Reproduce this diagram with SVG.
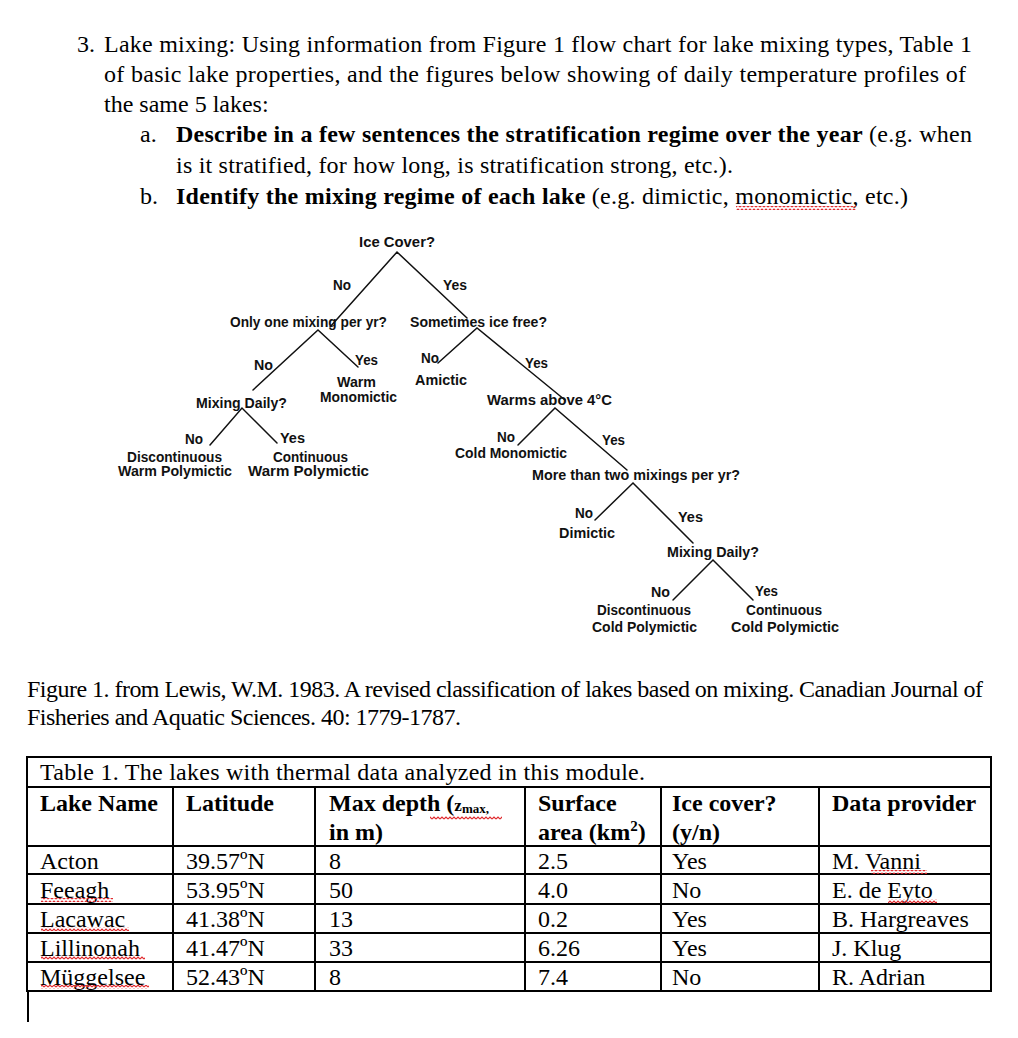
<svg xmlns="http://www.w3.org/2000/svg" width="1018" height="1038" viewBox="0 0 1018 1038">
<style>
.doc{font-family:"Liberation Serif","Times New Roman",serif;font-size:24px;fill:#000}
.b{font-weight:bold}
.fc{font-family:"Liberation Sans",Arial,sans-serif;font-weight:bold;font-size:14.5px;fill:#111}
.ln{stroke:#111;stroke-width:1.5;fill:none;stroke-linecap:round}
.tl{stroke:#000;stroke-width:2;fill:none}
</style>
<defs>
<pattern id="wave" width="4" height="4" patternUnits="userSpaceOnUse">
<path d="M0 3 L2 1 L4 3" stroke="#e0262a" stroke-width="1.1" fill="none"/>
</pattern>
</defs>
<rect width="1018" height="1038" fill="#fff"/>

<g id="question">
<text class="doc" x="77" y="52">3.</text>
<text class="doc" x="104" y="52" textLength="868" lengthAdjust="spacing">Lake mixing: Using information from Figure 1 flow chart for lake mixing types, Table 1</text>
<text class="doc" x="104" y="82" textLength="862" lengthAdjust="spacing">of basic lake properties, and the figures below showing of daily temperature profiles of</text>
<text class="doc" x="104" y="112">the same 5 lakes:</text>
<text class="doc" x="140" y="142">a.</text>
<text class="doc" x="176" y="142" textLength="796" lengthAdjust="spacing"><tspan class="b">Describe in a few sentences the stratification regime over the year</tspan> (e.g. when</text>
<text class="doc" x="176" y="173" textLength="557" lengthAdjust="spacing">is it stratified, for how long, is stratification strong, etc.).</text>
<text class="doc" x="140" y="204">b.</text>
<text class="doc" x="176" y="204" textLength="732" lengthAdjust="spacing"><tspan class="b">Identify the mixing regime of each lake</tspan> (e.g. dimictic, monomictic, etc.)</text>
<rect x="736" y="206" width="120" height="4" fill="url(#wave)"/>
</g>

<g id="connectors">
<path class="ln" d="M330 327 L397 252 L467 318"/>
<path class="ln" d="M253 390 L318 330 L358 367"/>
<path class="ln" d="M438 363 L477 328 L565 400"/>
<path class="ln" d="M210 445 L242 408 L277 443"/>
<path class="ln" d="M518 445 L555 408 L627 470"/>
<path class="ln" d="M595 520 L633 483 L693 543"/>
<path class="ln" d="M673 600 L713 560 L753 600"/>
</g>

<g id="n-ice-cover"><text class="fc" x="359" y="247" textLength="76" lengthAdjust="spacingAndGlyphs">Ice Cover?</text></g>
<g id="l-ice-no"><text class="fc" x="333" y="290" textLength="18" lengthAdjust="spacingAndGlyphs">No</text></g>
<g id="l-ice-yes"><text class="fc" x="443" y="290" textLength="24" lengthAdjust="spacingAndGlyphs">Yes</text></g>
<g id="n-only-one"><text class="fc" x="230" y="327" textLength="157" lengthAdjust="spacingAndGlyphs">Only one mixing per yr?</text></g>
<g id="n-sometimes"><text class="fc" x="410" y="327" textLength="137" lengthAdjust="spacingAndGlyphs">Sometimes ice free?</text></g>
<g id="l-only-no"><text class="fc" x="254" y="370" textLength="19" lengthAdjust="spacingAndGlyphs">No</text></g>
<g id="n-warm-mono"><text class="fc" x="355" y="365" textLength="23" lengthAdjust="spacingAndGlyphs">Yes</text>
<text class="fc" x="337" y="387" textLength="39" lengthAdjust="spacingAndGlyphs">Warm</text>
<text class="fc" x="320" y="402" textLength="77" lengthAdjust="spacingAndGlyphs">Monomictic</text></g>
<g id="n-amictic"><text class="fc" x="421" y="363" textLength="18" lengthAdjust="spacingAndGlyphs">No</text>
<text class="fc" x="415" y="385" textLength="52" lengthAdjust="spacingAndGlyphs">Amictic</text></g>
<g id="l-some-yes"><text class="fc" x="525" y="368" textLength="23" lengthAdjust="spacingAndGlyphs">Yes</text></g>
<g id="n-warms-above"><text class="fc" x="487" y="405" textLength="125" lengthAdjust="spacingAndGlyphs">Warms above 4°C</text></g>
<g id="n-mixing-daily-1"><text class="fc" x="196" y="408" textLength="91" lengthAdjust="spacingAndGlyphs">Mixing Daily?</text></g>
<g id="n-disc-warm"><text class="fc" x="185" y="444" textLength="18" lengthAdjust="spacingAndGlyphs">No</text>
<text class="fc" x="127" y="462" textLength="95" lengthAdjust="spacingAndGlyphs">Discontinuous</text>
<text class="fc" x="118" y="476" textLength="114" lengthAdjust="spacingAndGlyphs">Warm Polymictic</text></g>
<g id="n-cont-warm"><text class="fc" x="280" y="443" textLength="25" lengthAdjust="spacingAndGlyphs">Yes</text>
<text class="fc" x="273" y="462" textLength="75" lengthAdjust="spacingAndGlyphs">Continuous</text>
<text class="fc" x="248" y="476" textLength="121" lengthAdjust="spacingAndGlyphs">Warm Polymictic</text></g>
<g id="n-cold-mono"><text class="fc" x="497" y="442" textLength="18" lengthAdjust="spacingAndGlyphs">No</text>
<text class="fc" x="455" y="458" textLength="112" lengthAdjust="spacingAndGlyphs">Cold Monomictic</text></g>
<g id="l-warms-yes"><text class="fc" x="602" y="445" textLength="23" lengthAdjust="spacingAndGlyphs">Yes</text></g>
<g id="n-more-than-two"><text class="fc" x="532" y="480" textLength="208" lengthAdjust="spacingAndGlyphs">More than two mixings per yr?</text></g>
<g id="n-dimictic"><text class="fc" x="575" y="518" textLength="18" lengthAdjust="spacingAndGlyphs">No</text>
<text class="fc" x="559" y="538" textLength="56" lengthAdjust="spacingAndGlyphs">Dimictic</text></g>
<g id="l-more-yes"><text class="fc" x="678" y="522" textLength="25" lengthAdjust="spacingAndGlyphs">Yes</text></g>
<g id="n-mixing-daily-2"><text class="fc" x="667" y="557" textLength="92" lengthAdjust="spacingAndGlyphs">Mixing Daily?</text></g>
<g id="n-disc-cold"><text class="fc" x="651" y="597" textLength="19" lengthAdjust="spacingAndGlyphs">No</text>
<text class="fc" x="597" y="615" textLength="94" lengthAdjust="spacingAndGlyphs">Discontinuous</text>
<text class="fc" x="592" y="632" textLength="105" lengthAdjust="spacingAndGlyphs">Cold Polymictic</text></g>
<g id="n-cont-cold"><text class="fc" x="755" y="596" textLength="23" lengthAdjust="spacingAndGlyphs">Yes</text>
<text class="fc" x="746" y="615" textLength="76" lengthAdjust="spacingAndGlyphs">Continuous</text>
<text class="fc" x="731" y="632" textLength="108" lengthAdjust="spacingAndGlyphs">Cold Polymictic</text></g>

<g id="caption">
<text class="doc" x="27" y="697" textLength="956" lengthAdjust="spacing">Figure 1. from Lewis, W.M. 1983. A revised classification of lakes based on mixing. Canadian Journal of</text>
<text class="doc" x="27" y="725" textLength="434" lengthAdjust="spacing">Fisheries and Aquatic Sciences. 40: 1779-1787.</text>
</g>

<g id="table">
<rect class="tl" x="27" y="757" width="964" height="234"/>
<path class="tl" d="M27 787H991M27 846H991M27 874H991M27 904H991M27 933H991M27 962H991"/>
<path class="tl" d="M173 787V991M315 787V991M525 787V991M661 787V991M819 787V991"/>
<path class="tl" d="M28 991V1022"/>
<text class="doc" x="40" y="780" textLength="605" lengthAdjust="spacing">Table 1. The lakes with thermal data analyzed in this module.</text>
<g class="doc b">
<text x="40" y="811">Lake Name</text>
<text x="186" y="811">Latitude</text>
<text x="329" y="811">Max depth (<tspan font-size="17">z</tspan><tspan font-size="13" dy="2">max,</tspan></text>
<text x="329" y="840">in m)</text>
<text x="538" y="811">Surface</text>
<text x="538" y="840">area (km<tspan font-size="15" dy="-9">2</tspan><tspan dy="9">)</tspan></text>
<text x="672" y="811">Ice cover?</text>
<text x="672" y="840">(y/n)</text>
<text x="832" y="811">Data provider</text>
</g>
<g class="doc">
<text x="40" y="869">Acton</text><text x="186" y="869">39.57ºN</text><text x="329" y="869">8</text><text x="538" y="869">2.5</text><text x="672" y="869">Yes</text><text x="832" y="869">M. Vanni</text>
<text x="40" y="898">Feeagh</text><text x="186" y="898">53.95ºN</text><text x="329" y="898">50</text><text x="538" y="898">4.0</text><text x="672" y="898">No</text><text x="832" y="898">E. de Eyto</text>
<text x="40" y="927">Lacawac</text><text x="186" y="927">41.38ºN</text><text x="329" y="927">13</text><text x="538" y="927">0.2</text><text x="672" y="927">Yes</text><text x="832" y="927">B. Hargreaves</text>
<text x="40" y="956">Lillinonah</text><text x="186" y="956">41.47ºN</text><text x="329" y="956">33</text><text x="538" y="956">6.26</text><text x="672" y="956">Yes</text><text x="832" y="956">J. Klug</text>
<text x="40" y="985">Müggelsee</text><text x="186" y="985">52.43ºN</text><text x="329" y="985">8</text><text x="538" y="985">7.4</text><text x="672" y="985">No</text><text x="832" y="985">R. Adrian</text>
</g>
<rect x="430" y="816" width="72" height="4" fill="url(#wave)"/>
<rect x="871" y="870" width="56" height="4" fill="url(#wave)"/>
<rect x="888" y="899" width="49" height="4" fill="url(#wave)"/>
<rect x="41" y="898" width="72" height="4" fill="url(#wave)"/>
<rect x="41" y="927" width="88" height="4" fill="url(#wave)"/>
<rect x="41" y="956" width="104" height="4" fill="url(#wave)"/>
<rect x="41" y="985" width="108" height="4" fill="url(#wave)"/>
</g>
</svg>
